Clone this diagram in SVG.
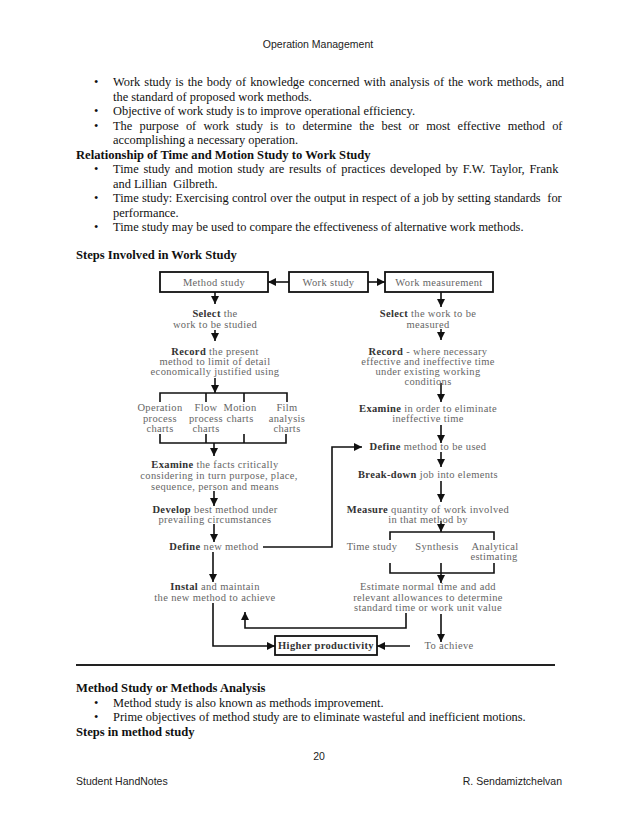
<svg xmlns="http://www.w3.org/2000/svg" width="638" height="826" viewBox="0 0 638 826">
<style>
.hdr{font-family:"Liberation Sans",Arial,sans-serif;font-size:10.5px;fill:#222}
.bd{font-family:"Liberation Serif","Times New Roman",serif;font-size:12.4px;fill:#111}
.pre{white-space:pre}
.bh{font-family:"Liberation Serif","Times New Roman",serif;font-size:12.6px;font-weight:bold;fill:#111}
.fc{font-family:"Liberation Serif","Times New Roman",serif;font-size:10.5px;fill:#666;letter-spacing:0.35px;text-anchor:middle}
.b{font-weight:bold;fill:#333}
.box{fill:#fff;stroke:#111;stroke-width:1.8}
.ln{fill:none;stroke:#111;stroke-width:1.6}
.ar{fill:none;stroke:#111;stroke-width:1.6;marker-end:url(#ah)}
</style>
<defs>
<marker id="ah" markerUnits="userSpaceOnUse" markerWidth="9" markerHeight="8" refX="8" refY="4" orient="auto">
<path d="M0,0 L8,4 L0,8 z" fill="#111"/>
</marker>
</defs>
<rect width="638" height="826" fill="#fff"/>

<text class="hdr" x="318" y="48" text-anchor="middle">Operation Management</text>

<g id="intro">
<text class="bd" x="94" y="86">•</text>
<text class="bd" x="113" y="86" word-spacing="1.0">Work study is the body of knowledge concerned with analysis of the work methods, and</text>
<text class="bd" x="113" y="100.5">the standard of proposed work methods.</text>
<text class="bd" x="94" y="115">•</text>
<text class="bd" x="113" y="115">Objective of work study is to improve operational efficiency.</text>
<text class="bd" x="94" y="129.5">•</text>
<text class="bd" x="113" y="129.5" word-spacing="4.1">The purpose of work study is to determine the best or most effective method of</text>
<text class="bd" x="113" y="144">accomplishing a necessary operation.</text>
<text class="bh" x="76" y="158.5">Relationship of Time and Motion Study to Work Study</text>
<text class="bd" x="94" y="173">•</text>
<text class="bd" x="113" y="173" word-spacing="1.65">Time study and motion study are results of practices developed by F.W. Taylor, Frank</text>
<text class="bd pre" x="113" y="187.5">and Lillian  Gilbreth.</text>
<text class="bd" x="94" y="202">•</text>
<text class="bd pre" x="113" y="202" word-spacing="0.2">Time study: Exercising control over the output in respect of a job by setting standards  for</text>
<text class="bd" x="113" y="216.5">performance.</text>
<text class="bd" x="94" y="231">•</text>
<text class="bd" x="113" y="231">Time study may be used to compare the effectiveness of alternative work methods.</text>
<text class="bh" x="76" y="259">Steps Involved in Work Study</text>
</g>

<g id="connectors">
<path class="ar" d="M289,282 H268"/>
<path class="ar" d="M368,282 H385"/>
<path class="ar" d="M215,292 V304"/>
<path class="ar" d="M215,330 V341"/>
<path class="ar" d="M215,378 V393"/>
<path class="ln" d="M160,402 V393 H287 V402 M206,393 V402 M244,393 V402" stroke-width="2"/>
<path class="ln" d="M160,434 V443 H286 V434 M206,434 V443 M244,434 V443" stroke-width="2"/>
<path class="ar" d="M214,443 V456"/>
<path class="ar" d="M214,491 V506"/>
<path class="ar" d="M214,524 V542"/>
<path class="ar" d="M263,547 H332 V447 H362"/>
<path class="ar" d="M213,552 V582"/>
<path class="ar" d="M213,603 V646 H275"/>
<path class="ar" d="M406,613 V628 H245 V612"/>
<path class="ar" d="M441,292 V307"/>
<path class="ar" d="M441,329 V340"/>
<path class="ar" d="M441,383 V402"/>
<path class="ar" d="M441,425 V443"/>
<path class="ar" d="M441,452 V467"/>
<path class="ar" d="M441,481 V502"/>
<path class="ar" d="M441,521 V532"/>
<path class="ln" d="M390,540 V532 H494 V540" stroke-width="2"/>
<path class="ln" d="M390,563 V573 H494 V563" stroke-width="2"/>
<path class="ar" d="M441,563 V583"/>
<path class="ar" d="M441,614 V642"/>
<path class="ar" d="M410,646 H377"/>
</g>

<g id="method-study">
<rect class="box" x="160" y="272" width="108" height="20"/>
<text class="fc" x="214" y="286">Method study</text>
</g>
<g id="work-study">
<rect class="box" x="289" y="272" width="79" height="20"/>
<text class="fc" x="328.5" y="286">Work study</text>
</g>
<g id="work-measurement">
<rect class="box" x="385" y="272" width="108" height="20"/>
<text class="fc" x="439" y="286">Work measurement</text>
</g>

<g id="select-left">
<text class="fc" x="215" y="317"><tspan class="b">Select</tspan> the</text>
<text class="fc" x="215" y="328">work to be studied</text>
</g>
<g id="record-left">
<text class="fc" x="215" y="355"><tspan class="b">Record</tspan> the present</text>
<text class="fc" x="215" y="365">method to limit of detail</text>
<text class="fc" x="215" y="375">economically justified using</text>
</g>
<g id="operation-process-charts">
<text class="fc" x="160" y="411">Operation</text>
<text class="fc" x="160" y="422">process</text>
<text class="fc" x="160" y="432">charts</text>
</g>
<g id="flow-process-charts">
<text class="fc" x="206" y="411">Flow</text>
<text class="fc" x="206" y="422">process</text>
<text class="fc" x="206" y="432">charts</text>
</g>
<g id="motion-charts">
<text class="fc" x="240" y="411">Motion</text>
<text class="fc" x="240" y="422">charts</text>
</g>
<g id="film-analysis-charts">
<text class="fc" x="287" y="411">Film</text>
<text class="fc" x="287" y="422">analysis</text>
<text class="fc" x="287" y="432">charts</text>
</g>
<g id="examine-left">
<text class="fc" x="215" y="468"><tspan class="b">Examine</tspan> the facts critically</text>
<text class="fc" x="219" y="479">considering in turn purpose, place,</text>
<text class="fc" x="215" y="490">sequence, person and means</text>
</g>
<g id="develop">
<text class="fc" x="215" y="513"><tspan class="b">Develop</tspan> best method under</text>
<text class="fc" x="215" y="523">prevailing circumstances</text>
</g>
<g id="define-new">
<text class="fc" x="214" y="550"><tspan class="b">Define</tspan> new method</text>
</g>
<g id="instal">
<text class="fc" x="215" y="590"><tspan class="b">Instal</tspan> and maintain</text>
<text class="fc" x="215" y="601">the new method to achieve</text>
</g>
<g id="higher-productivity">
<rect class="box" x="275" y="636" width="102" height="19"/>
<text class="fc" x="326" y="649" style="font-weight:bold;fill:#333">Higher productivity</text>
</g>

<g id="select-right">
<text class="fc" x="428" y="317"><tspan class="b">Select</tspan> the work to be</text>
<text class="fc" x="428" y="328">measured</text>
</g>
<g id="record-right">
<text class="fc" x="428" y="355"><tspan class="b">Record</tspan> - where necessary</text>
<text class="fc" x="428" y="365">effective and ineffective time</text>
<text class="fc" x="428" y="375">under existing working</text>
<text class="fc" x="428" y="385">conditions</text>
</g>
<g id="examine-right">
<text class="fc" x="428" y="412"><tspan class="b">Examine</tspan> in order to eliminate</text>
<text class="fc" x="428" y="422">ineffective time</text>
</g>
<g id="define-method">
<text class="fc" x="428" y="450"><tspan class="b">Define</tspan> method to be used</text>
</g>
<g id="break-down">
<text class="fc" x="428" y="478"><tspan class="b">Break-down</tspan> job into elements</text>
</g>
<g id="measure">
<text class="fc" x="428" y="513"><tspan class="b">Measure</tspan> quantity of work involved</text>
<text class="fc" x="428" y="523">in that method by</text>
</g>
<g id="time-study">
<text class="fc" x="372" y="550">Time study</text>
</g>
<g id="synthesis">
<text class="fc" x="437" y="550">Synthesis</text>
</g>
<g id="analytical-estimating">
<text class="fc" x="495" y="550">Analytical</text>
<text class="fc" x="494" y="560">estimating</text>
</g>
<g id="estimate">
<text class="fc" x="428" y="590">Estimate normal time and add</text>
<text class="fc" x="428" y="601">relevant allowances to determine</text>
<text class="fc" x="428" y="611">standard time or work unit value</text>
</g>
<g id="to-achieve">
<text class="fc" x="449" y="649">To achieve</text>
</g>

<line x1="76" y1="665" x2="555" y2="665" stroke="#222" stroke-width="2.2"/>

<g id="method-analysis">
<text class="bh" x="76" y="692">Method Study or Methods Analysis</text>
<text class="bd" x="94" y="706.5">•</text>
<text class="bd" x="113" y="706.5">Method study is also known as methods improvement.</text>
<text class="bd" x="94" y="721">•</text>
<text class="bd" x="113" y="721">Prime objectives of method study are to eliminate wasteful and inefficient motions.</text>
<text class="bh" x="76" y="735.5">Steps in method study</text>
</g>

<text class="hdr" x="319" y="760" text-anchor="middle">20</text>
<text class="hdr" x="76" y="785">Student HandNotes</text>
<text class="hdr" x="562" y="785" text-anchor="end">R. Sendamiztchelvan</text>
</svg>
